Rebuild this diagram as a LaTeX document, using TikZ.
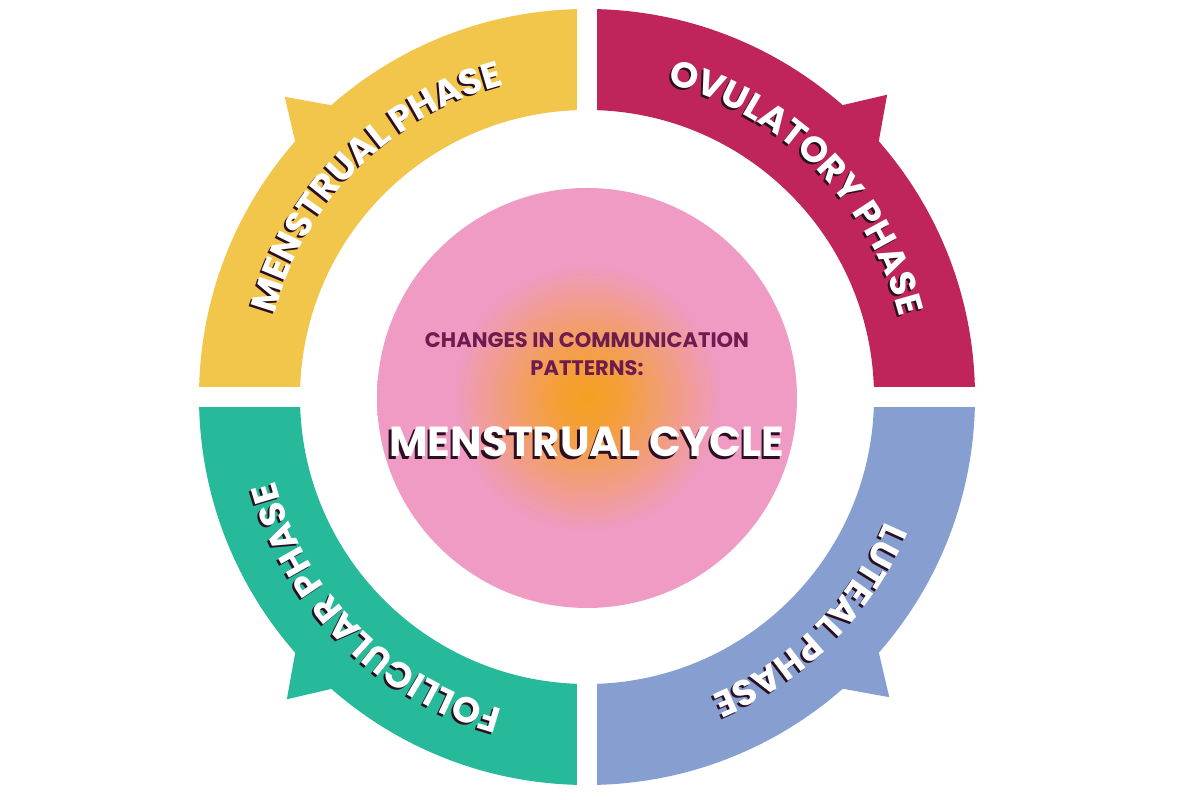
\documentclass[tikz,border=0pt]{standalone}
\usepackage{fontspec}
\setmainfont{Poppins}
\usetikzlibrary{decorations.text}
\definecolor{cy}{HTML}{F2C54B}
\definecolor{cr}{HTML}{BF245A}
\definecolor{cg}{HTML}{26B99A}
\definecolor{cb}{HTML}{879ED0}
\definecolor{cpink}{HTML}{EF9BC4}
\definecolor{corange}{HTML}{F5A020}
\definecolor{cshadow}{HTML}{2A0E22}
\definecolor{cpurple}{HTML}{6E1B4E}
\pgfdeclareradialshading{glow}{\pgfpoint{0bp}{0bp}}{color(0bp)=(corange); color(4bp)=(corange!85!cpink); color(16bp)=(cpink); color(50bp)=(cpink)}
\tikzset{
  arctext/.style n args={2}{decorate,decoration={text along path,text align=center,
     text color=#1,text={|\fontsize{36}{36}\selectfont\bfseries|#2}}},
}
\newcommand{\phasetext}[3]{%
  \path[arctext={cshadow}{#3}] ([xshift=-2pt,yshift=-2pt]c) ++(#1:323) arc[start angle=#1,end angle=#2,radius=323];
  \path[arctext={white}{#3}] (c) ++(#1:323) arc[start angle=#1,end angle=#2,radius=323];}
\begin{document}
\begin{tikzpicture}[x=1pt,y=1pt]
\useasboundingbox (0,0) rectangle (1200,800);
\coordinate (c) at (587,403);
% quadrant bands
\foreach \a/\col in {90/cy,0/cr,-90/cb,-180/cg}{
  \fill[\col] (c) ++(\a:287) -- ++(\a:101) arc[start angle=\a,end angle=\a+90,radius=388] -- ++(\a+90:-101) arc[start angle=\a+90,end angle=\a,radius=287] -- cycle;
  \fill[\col] ([shift={(\a+41:386)}]c) -- ([shift={(\a+45.2:426)}]c) -- ([shift={(\a+49:386)}]c) -- cycle;
}
% white gaps
\fill[white] (577,0) rectangle (597,800);
\fill[white] (0,393) rectangle (1200,413);
% centre
\node[circle,minimum size=420pt,inner sep=0pt,shading=glow] (ctr) at (587,402) {};
\node[text=cpurple,font=\fontsize{21}{28}\selectfont\bfseries,align=center] (t1) at (587,446) {CHANGES IN COMMUNICATION\\PATTERNS:};
\node[text=cshadow,font=\fontsize{42}{42}\selectfont\bfseries] at (584.5,355.5) {MENSTRUAL CYCLE};
\node[text=white,font=\fontsize{42}{42}\selectfont\bfseries] (t2) at (587,358) {MENSTRUAL CYCLE};
% arc labels
\phasetext{180}{90}{MENSTRUAL PHASE}
\phasetext{90}{0}{OVULATORY PHASE}
\phasetext{0}{-90}{LUTEAL PHASE}
\phasetext{-90}{-180}{FOLLICULAR PHASE}
\end{tikzpicture}
\end{document}
